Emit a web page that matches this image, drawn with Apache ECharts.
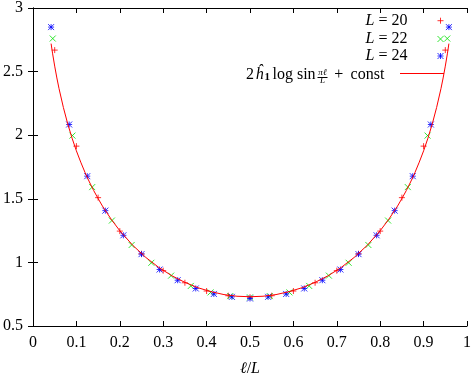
<!DOCTYPE html>
<html><head><meta charset="utf-8">
<script src="https://cdn.jsdelivr.net/npm/echarts@6/dist/echarts.min.js"></script>
<style>html,body{margin:0;padding:0;background:#fff}#c{width:474px;height:382px}</style>
</head><body><div id="c"></div>
<script>
// ---------- data ----------
const xTickLabels = ['0','0.1','0.2','0.3','0.4','0.5','0.6','0.7','0.8','0.9','1'];
const yTickLabels = ['0.5','1','1.5','2','2.5','3'];

const x20 = [0.05,0.10,0.15,0.20,0.25,0.30,0.35,0.40,0.45,0.50,0.55,0.60,0.65,0.70,0.75,0.80,0.85,0.90,0.95];
const y20 = [2.669,1.914,1.509,1.246,1.068,0.935,0.840,0.775,0.738,0.726,0.738,0.775,0.840,0.935,1.068,1.246,1.509,1.914,2.669];

const x22 = [0.0455,0.0909,0.1364,0.1818,0.2273,0.2727,0.3182,0.3636,0.4091,0.4545,0.5,0.5455,0.5909,0.6364,0.6818,0.7273,0.7727,0.8182,0.8636,0.9091,0.9545];
const y22 = [2.760,1.997,1.592,1.329,1.137,0.997,0.896,0.815,0.764,0.735,0.725,0.735,0.764,0.815,0.896,0.997,1.137,1.329,1.592,1.997,2.760];

const x24 = [0.0417,0.0833,0.125,0.1667,0.2083,0.25,0.2917,0.3333,0.375,0.4167,0.4583,0.5,0.5417,0.5833,0.625,0.6667,0.7083,0.75,0.7917,0.8333,0.875,0.9167,0.9583];
const y24 = [2.850,2.084,1.678,1.407,1.213,1.065,0.944,0.860,0.795,0.752,0.729,0.716,0.729,0.752,0.795,0.860,0.944,1.065,1.213,1.407,1.678,2.084,2.850];

const curveX = [0.0417,0.045,0.05,0.055,0.06,0.07,0.08,0.09,0.10,0.11,0.12,0.13,0.14,0.15,0.16,0.18,0.20,0.23,0.26,0.29,0.32,0.35,0.38,0.41,0.44,0.47,0.50,0.53,0.56,0.59,0.62,0.65,0.68,0.71,0.74,0.77,0.80,0.82,0.84,0.85,0.86,0.87,0.88,0.89,0.90,0.91,0.92,0.93,0.94,0.945,0.95,0.955,0.9583];
const curveY = [2.72,2.645,2.543,2.45,2.366,2.218,2.089,1.977,1.877,1.788,1.706,1.632,1.564,1.502,1.443,1.34,1.249,1.134,1.039,0.96,0.895,0.843,0.801,0.77,0.747,0.734,0.73,0.734,0.747,0.77,0.801,0.843,0.895,0.96,1.039,1.134,1.249,1.34,1.443,1.502,1.564,1.632,1.706,1.788,1.877,1.977,2.089,2.218,2.366,2.45,2.543,2.645,2.72];

// ---------- chart ----------
const FONT = 'Liberation Serif';
const pair = (xs, ys) => xs.map((x, i) => [x, ys[i]]);
const plusPath  = 'path://M0,3L6,3M3,0L3,6';
const crossPath = 'path://M0,0L6,6M6,0L0,6';
const starPath  = 'path://M0,3L6,3M3,0L3,6M0,0L6,6M6,0L0,6';

const chart = echarts.init(document.getElementById('c'), null, {renderer: 'canvas'});

const lineAx = {show: true, lineStyle: {color: '#000', width: 1}};
const tickAx = {show: true, inside: true, length: 5, lineStyle: {color: '#000', width: 1}};
const lblStyle = {color: '#000', fontFamily: FONT, fontSize: 16};

function xAx(pos, showLabel) {
  return {
    type: 'value', min: 0, max: 1, interval: 0.1, position: pos,
    axisLine: lineAx, axisTick: tickAx, splitLine: {show: false},
    axisLabel: Object.assign({show: showLabel, margin: 9,
      formatter: v => xTickLabels[Math.round(v * 10)]}, lblStyle)
  };
}
function yAx(pos, showLabel) {
  return {
    type: 'value', min: 0.5, max: 3, interval: 0.5, position: pos,
    axisLine: lineAx, axisTick: tickAx, splitLine: {show: false},
    axisLabel: Object.assign({show: showLabel, margin: 10,
      formatter: v => yTickLabels[Math.round((v - 0.5) * 2)]}, lblStyle)
  };
}

const xa0 = xAx('bottom', true);
xa0.name = '{i|ℓ}/{i|L}';
xa0.nameLocation = 'middle';
xa0.nameGap = 35;
xa0.nameTextStyle = {color: '#000', fontFamily: FONT, fontSize: 16,
  rich: {i: {fontFamily: FONT, fontStyle: 'italic', fontSize: 16, color: '#000'}}};

const legendCommon = {
  orient: 'vertical', align: 'right', right: 30, itemWidth: 44, itemHeight: 6,
  itemGap: 0, padding: 0, selectedMode: false,
  itemStyle: {borderWidth: 1},
  textStyle: {color: '#000', fontFamily: FONT, fontSize: 16, lineHeight: 16, padding: [0, 6, 0, 0],
    rich: {i: {fontFamily: FONT, fontStyle: 'italic', fontSize: 16, lineHeight: 16, color: '#000'}}}
};
const lFmt = name => '{i|L}' + name.slice(1);

const fitName = '2ĥ1 log sin πℓ/L + const';

// key entry of the fitted curve: sample line + typeset formula label
const txt = (text, x, y, size, extra) => ({
  type: 'text', x, y, silent: true,
  style: Object.assign({text, fontFamily: FONT, fontSize: size, fill: '#000',
    align: 'center', verticalAlign: 'middle'}, extra || {})
});
const keyGraphics = [
  {type: 'line', silent: true, shape: {x1: 400, y1: 73.5, x2: 444, y2: 73.5},
    style: {stroke: '#ff0000', lineWidth: 1}},
  txt('2', 254, 74.6, 16, {align: 'right'}),
  txt('ĥ', 259.5, 74.6, 16, {fontStyle: 'italic'}),
  txt('1', 267.2, 77, 11, {fontWeight: 'bold'}),
  txt('log sin', 272.5, 74.6, 16, {align: 'left'}),
  txt('πℓ', 322.5, 72.8, 9, {fontStyle: 'italic'}),
  {type: 'rect', silent: true, shape: {x: 317.5, y: 77, width: 10, height: 1}, style: {fill: '#000'}},
  txt('L', 322.5, 81, 9, {fontStyle: 'italic'}),
  txt('+', 338.7, 74.6, 16),
  txt('const', 367.5, 74.6, 16)
];

const scatterBase = (name, data, sym, color) => ({
  name, type: 'scatter', data, symbol: sym, symbolSize: 6,
  itemStyle: {color: color, borderColor: color, borderWidth: 1},
  emphasis: {disabled: true}, silent: true
});

chart.setOption({
  animation: false,
  backgroundColor: '#fff',
  grid: {left: 31, right: 6, top: 7, bottom: 53},
  xAxis: [xa0, xAx('top', false)],
  yAxis: [yAx('left', true), yAx('right', false)],
  legend: [
    Object.assign({}, legendCommon, {data: ['L = 20'], top: 12.7, formatter: lFmt}),
    Object.assign({}, legendCommon, {data: ['L = 22'], top: 31, formatter: lFmt}),
    Object.assign({}, legendCommon, {data: ['L = 24'], top: 48, formatter: lFmt})
  ],
  graphic: {elements: keyGraphics},
  series: [
    scatterBase('L = 20', pair(x20, y20), plusPath, '#ff0000'),
    scatterBase('L = 22', pair(x22, y22), crossPath, '#00e000'),
    scatterBase('L = 24', pair(x24, y24), starPath, '#0000ff'),
    {
      name: fitName, type: 'line', data: pair(curveX, curveY),
      symbol: 'none', showSymbol: false, smooth: false,
      lineStyle: {color: '#ff0000', width: 1},
      itemStyle: {color: '#ff0000'},
      emphasis: {disabled: true}, silent: true, z: 3
    }
  ]
});
</script>
</body></html>
